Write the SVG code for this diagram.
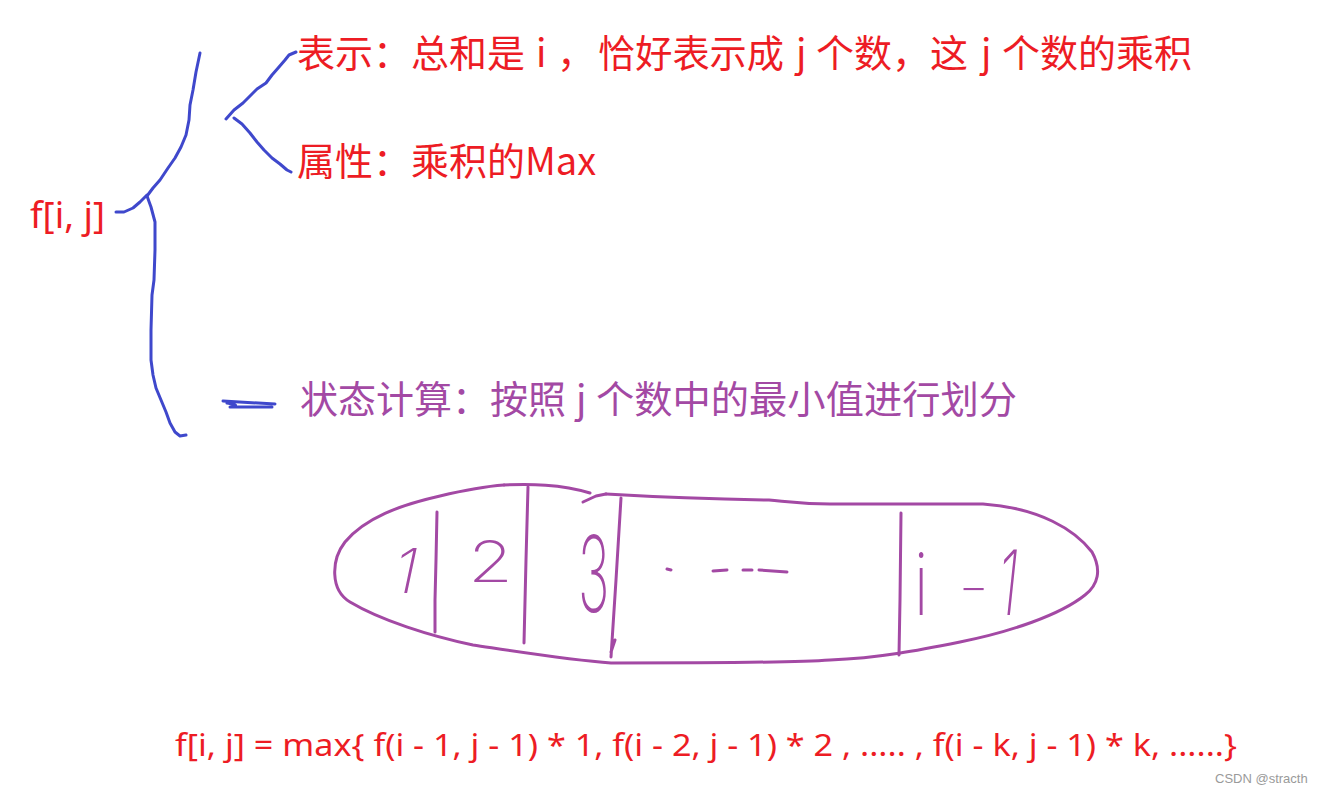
<svg xmlns="http://www.w3.org/2000/svg" width="1317" height="793" viewBox="0 0 1317 793">
<style>
.bg{fill:#ffffff}
.red{fill:#ED1C24;font-family:"Noto Sans CJK SC","Noto Sans",sans-serif}
.pur{fill:#A349A4;font-family:"Noto Sans CJK SC","Noto Sans",sans-serif}
.lat{font-family:"Noto Sans","Liberation Sans",sans-serif}
.blue{fill:none;stroke:#3F48CC;stroke-width:3;stroke-linecap:round;stroke-linejoin:round}
.pline{fill:none;stroke:#A349A4;stroke-width:3;stroke-linecap:round;stroke-linejoin:round}
.hw{fill:#A349A4;font-family:Inter,"Liberation Sans",sans-serif;font-weight:200}
.wm{fill:#9a9a9a;font-family:"Liberation Sans",sans-serif;font-size:13px}
</style>
<rect class="bg" x="0" y="0" width="1317" height="793"/>

<g id="connectors">
  <path class="blue" d="M200,53 L196,72 L193,90 L190,105 L189,120 L186,135 L181,147 L175,158 L168,168 L160,180 L153,188 L147,196"/>
  <path class="blue" d="M116,212 L124,212 L133,208 L140,202 L147,195"/>
  <path class="blue" d="M147,196 L151,207 L155,222 L155,250 L154,280 L152,295 L151,330 L151,360 L153,375 L156,388 L161,400 L166,412 L170,423 L175,432 L180,436 L186,435"/>
  <path class="blue" d="M226,119 L234,110 L243,103 L250,96 L257,89 L266,83 L272,75 L279,67 L285,60 L289,55 L296,52"/>
  <path class="blue" d="M234,118 L242,124 L250,133 L257,142 L264,150 L272,158 L280,164 L287,170 L291,172"/>
  <path class="blue" d="M223,401 L275,404 M230,407 L272,407 M227,403 Q240,405 233,406"/>
</g>

<g id="node-fij">
  <text class="red lat" x="30" y="228" font-size="36" textLength="75" lengthAdjust="spacingAndGlyphs">f[i, j]</text>
</g>

<g id="node-repr">
  <text class="red" y="67" font-size="38"><tspan x="297">表示：总和是 </tspan><tspan x="536">i </tspan><tspan x="557">，</tspan><tspan x="598" textLength="186" lengthAdjust="spacingAndGlyphs">恰好表示成</tspan><tspan x="796">j </tspan><tspan x="816">个数，这 </tspan><tspan x="981">j </tspan><tspan x="1002">个数的乘积</tspan></text>
</g>

<g id="node-attr">
  <text class="red" x="297" y="175" font-size="38">属性：乘积的Max</text>
</g>

<g id="node-state">
  <text class="pur" y="413" font-size="38"><tspan x="300">状态计算：按照 </tspan><tspan x="576">j </tspan><tspan x="596" textLength="421" lengthAdjust="spacingAndGlyphs">个数中的最小值进行划分</tspan></text>
</g>

<g id="node-partition">
  <path class="pline" d="M504,485 C530,484 560,484 590,493"/>
  <path class="pline" d="M583,502 L596,496 L606,494"/>
  <path class="pline" d="M606,494 C640,496 700,499 769,500 C790,502 800,504 830,504 L983,504 C1040,508 1075,530 1092,552 C1102,570 1098,585 1085,595 C1060,615 1010,632 960,642 C920,650 880,658 830,660 C790,663 700,663 611,663 C570,660 520,652 473,645 C430,636 380,620 350,602 C330,590 331,560 345,542 C365,518 400,505 440,496 C465,490 490,486 504,485"/>
  <path class="pline" d="M437,512 L436,560 L435,600 L435,632"/>
  <path class="pline" d="M528,487 L526,560 L524,643"/>
  <path class="pline" d="M621,498 L616,580 L611,657 M611,652 L615,640"/>
  <path class="pline" d="M901,513 L900,600 L899,655"/>
  <text class="hw" transform="translate(390,593) skewX(-12)" font-size="62">1</text>
  <text class="hw" transform="translate(468,582) scale(1.35,1.05)" font-size="54">2</text>
  <text class="hw" transform="translate(578,612) scale(0.8,1.6)" font-size="66">3</text>
  <path class="pline" d="M667,569 L671,570 M713,571 L727,570 M743,570 L752,570 M759,570 L787,572"/>
  <text class="hw" transform="translate(914,615) scale(1.1,1.5)" font-size="58">i</text>
  <text class="hw" transform="translate(958,605) scale(1.4,1)" font-size="50">-</text>
  <text class="hw" transform="translate(995,615) scale(0.9,1.5) skewX(-10)" font-size="60">1</text>
</g>

<g id="node-formula">
  <text class="red lat" x="175" y="756" font-size="31" textLength="1062" lengthAdjust="spacingAndGlyphs">f[i, j] = max{ f(i - 1, j - 1) * 1, f(i - 2, j - 1) * 2 , .....  , f(i - k, j - 1) * k, ......}</text>
</g>

<g id="watermark">
  <text class="wm" x="1215" y="783">CSDN @stracth</text>
</g>
</svg>
